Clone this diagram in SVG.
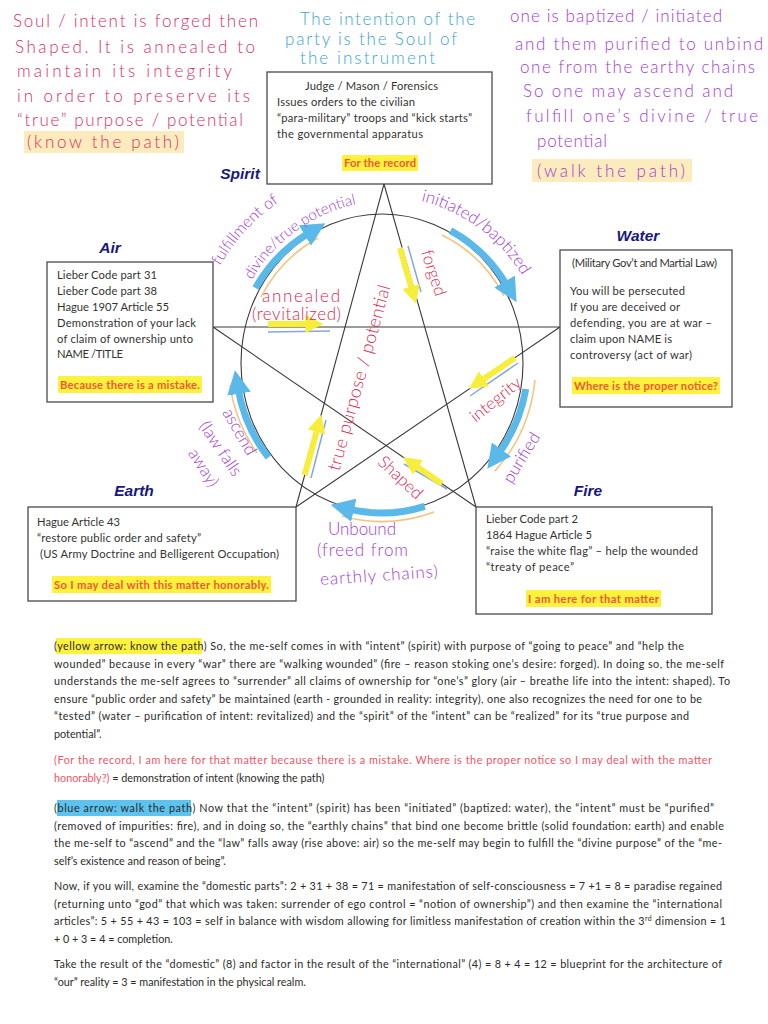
<svg xmlns="http://www.w3.org/2000/svg" width="768" height="1024" viewBox="0 0 768 1024">
<style>
.box{fill:#fff;stroke:#4a4a4a;stroke-width:1.3}
.lbl{font-family:"Liberation Sans",Arial,sans-serif;font-weight:bold;font-style:italic;font-size:15.5px;fill:#17177f;text-anchor:middle}
.bt{font-family:Lato,"Liberation Sans",sans-serif;font-size:11.2px;fill:#333}
.ht{font-family:Lato,"Liberation Sans",sans-serif;font-size:11.2px;font-weight:bold;fill:#f0583a}
.hl{fill:#fff23d}
.pch{fill:#fce7b2;opacity:.85}
.hw{font-family:Lato,"DejaVu Sans",sans-serif;font-weight:300;font-size:17px}
.pink{fill:#d52f66}
.teal{fill:#3ba6d0}
.purp{fill:#a23dd0}
.red{fill:#d62b4f}
.p{font-family:Lato,"Liberation Sans",sans-serif;font-size:10.8px;fill:#2b2b2b}
.pr{fill:#ee5566}
.pl{fill:none;stroke:#3a3a3a;stroke-width:1.1}
.ba{fill:none;stroke:#5ab9e8;stroke-width:7;marker-end:url(#bh)}
.ol{fill:none;stroke:#f4b968;stroke-width:1.6;opacity:.85}
.ya{fill:none;stroke:#f6ee3a;stroke-width:6;marker-end:url(#yh)}
.tb{fill:none;stroke:#7096d6;stroke-width:1.5;opacity:.85}
</style>
<defs>
<marker id="bh" viewBox="0 0 10 10" refX="2" refY="5" markerWidth="3.4" markerHeight="3.4" markerUnits="strokeWidth" orient="auto"><path d="M0,0 L10,5 L0,10 z" fill="#5ab9e8"/></marker>
<marker id="yh" viewBox="0 0 10 10" refX="2" refY="5" markerWidth="3" markerHeight="3" markerUnits="strokeWidth" orient="auto"><path d="M0,0 L10,5 L0,10 z" fill="#f6ee3a"/></marker>
<path id="pFul" d="M220,266 A186,190 0 0 1 298,191"/>
<path id="pDiv" d="M252,280 A157,161 0 0 1 364,203"/>
<path id="pIni" d="M421,201 A163,167 0 0 1 529,288"/>
</defs>
<rect width="768" height="1024" fill="#fff"/>

<!-- handwritten notes -->
<g id="note-left" class="hw pink" font-size="20">
<text x="13" y="27" textLength="245">Soul / intent is forged then</text>
<text x="15" y="53" textLength="240">Shaped. It is annealed to</text>
<text x="17" y="77" textLength="215">maintain its integrity</text>
<text x="17" y="102" textLength="233">in order to preserve its</text>
<text x="17" y="126" textLength="226">“true” purpose / potential</text>
<rect class="pch" x="24" y="131" width="160" height="22"/>
<text x="27" y="148" textLength="152">(know the path)</text>
</g>
<g id="note-center" class="hw teal" font-size="19">
<text x="300" y="25" textLength="175">The intention of the</text>
<text x="285" y="45" textLength="172">party is the Soul of</text>
<text x="300" y="64" textLength="135">the instrument</text>
</g>
<g id="note-right" class="hw purp" font-size="18.5">
<text x="510" y="22" textLength="212">one is baptized / initiated</text>
<text x="515" y="50" textLength="248">and them purified to unbind</text>
<text x="520" y="73" textLength="235">one from the earthy chains</text>
<text x="523" y="97" textLength="210">So one may ascend and</text>
<text x="526" y="122" textLength="232">fulfill one’s divine / true</text>
<text x="537" y="147" textLength="70">potential</text>
<rect class="pch" x="532" y="159" width="160" height="23"/>
<text x="537" y="177" textLength="148">(walk the path)</text>
</g>

<!-- connectors -->
<g id="connectors">
<ellipse class="pl" cx="382" cy="363" rx="141" ry="149"/>
<path class="pl" d="M384,184 L296,507 M384,184 L476,507 M213,327 L560,327 M213,327 L476,507 M560,327 L296,507"/>
<path class="ol" d="M261,297 A137,141 0 0 1 318,238"/>
<path class="ol" d="M442,235 A138,142 0 0 1 504,296"/>
<path class="ol" d="M535,380 A154,158 0 0 1 495,471"/>
<path class="ol" d="M434,512 A153,158 0 0 1 342,516"/>
<path class="ol" d="M257,453 A153,156 0 0 1 230,385"/>
<path class="ba" d="M255.6,288 A146,150 0 0 1 309,233"/>
<path class="ba" d="M450.5,230.6 A146,150 0 0 1 507,285.7"/>
<path class="ba" d="M525.8,389 A146,150 0 0 1 498.6,453.3"/>
<path class="ba" d="M424.7,506.4 A146,150 0 0 1 349.2,509.2"/>
<path class="ba" d="M268.5,457.4 A146,150 0 0 1 238.2,389"/>
<path class="tb" d="M408,246 L421,292"/>
<path class="tb" d="M518,363 L470,396"/>
<path class="tb" d="M447,489 L404,464"/>
<path class="tb" d="M311,478 L326,420"/>
<path class="tb" d="M268,332 L330,331"/>
<path class="ya" d="M400,248 L412,290"/>
<path class="ya" d="M515,357.7 L481,380.7"/>
<path class="ya" d="M442,483.7 L415,465.3"/>
<path class="ya" d="M304.7,475 L317.5,428.4"/>
<path class="ya" d="M268,324 L309,324"/>
</g>

<!-- arrow labels -->
<g id="arrow-labels" class="hw">
<text class="purp" font-size="16"><textPath href="#pFul">fulfillment of</textPath></text>
<text class="purp" font-size="15"><textPath href="#pDiv">divine/true potential</textPath></text>
<text class="purp" font-size="17"><textPath href="#pIni">initiated/baptized</textPath></text>
<text class="purp" font-size="17" text-anchor="middle" transform="translate(522,458) rotate(-58.5)" y="5">purified</text>
<text class="purp" font-size="17" text-anchor="middle" transform="translate(239,432) rotate(60)" y="5">ascend</text>
<text class="purp" font-size="17" text-anchor="middle" transform="translate(220,449) rotate(56)" y="5">(law falls</text>
<text class="purp" font-size="17" text-anchor="middle" transform="translate(203,468) rotate(57)" y="5">away)</text>
<text class="purp" font-size="17" x="328" y="535" textLength="68">Unbound</text>
<text class="purp" font-size="17" x="317" y="556" textLength="91">(freed from</text>
<text class="purp" font-size="17" x="320" y="581" textLength="118" transform="rotate(-4 379 576)">earthly chains)</text>
<text class="red" font-size="17" text-anchor="middle" transform="translate(433,273) rotate(72)" y="5">forged</text>
<text class="red" font-size="17" text-anchor="middle" transform="translate(496,400) rotate(-39)" y="5">integrity</text>
<text class="red" font-size="17" text-anchor="middle" transform="translate(400,478) rotate(43)" y="5">Shaped</text>
<text class="red" font-size="18" text-anchor="middle" transform="translate(360,378) rotate(-74.5)" y="5" textLength="192">true purpose / potential</text>
<text class="red" font-size="17" x="262" y="302" textLength="78">annealed</text>
<text class="red" font-size="17" x="252" y="320" textLength="89">(revitalized)</text>
</g>

<!-- nodes -->
<g id="spirit">
<text class="lbl" x="240" y="179">Spirit</text>
<rect class="box" x="267" y="72" width="225" height="112"/>
<text class="bt" x="305" y="90" textLength="133">Judge / Mason / Forensics</text>
<text class="bt" x="277" y="106" textLength="138">Issues orders to the civilian</text>
<text class="bt" x="277" y="122" textLength="195">“para-military” troops and “kick starts”</text>
<text class="bt" x="277" y="138" textLength="146">the governmental apparatus</text>
<rect class="hl" x="342" y="155" width="76" height="16"/>
<text class="ht" x="344" y="167" textLength="72">For the record</text>
</g>
<g id="air">
<text class="lbl" x="110" y="253">Air</text>
<rect class="box" x="47" y="262" width="166" height="140"/>
<text class="bt" x="57" y="279" textLength="100">Lieber Code part 31</text>
<text class="bt" x="57" y="295" textLength="100">Lieber Code part 38</text>
<text class="bt" x="57" y="311" textLength="112">Hague 1907 Article 55</text>
<text class="bt" x="57" y="327" textLength="139">Demonstration of your lack</text>
<text class="bt" x="57" y="343" textLength="136">of claim of ownership unto</text>
<text class="bt" x="57" y="358" textLength="66">NAME /TITLE</text>
<rect class="hl" x="58" y="376" width="144" height="17"/>
<text class="ht" x="60" y="389" textLength="140">Because there is a mistake.</text>
</g>
<g id="water">
<text class="lbl" x="638" y="241">Water</text>
<rect class="box" x="560" y="250" width="172" height="157"/>
<text class="bt" x="572" y="267" font-size="10.4" textLength="145">(Military Gov’t and Martial Law)</text>
<text class="bt" x="570" y="295" textLength="115">You will be persecuted</text>
<text class="bt" x="570" y="311" textLength="110">If you are deceived or</text>
<text class="bt" x="570" y="327" textLength="142">defending, you are at war –</text>
<text class="bt" x="570" y="343" textLength="102">claim upon NAME is</text>
<text class="bt" x="570" y="359" textLength="122">controversy (act of war)</text>
<rect class="hl" x="572" y="377" width="148" height="17"/>
<text class="ht" x="574" y="390" textLength="144">Where is the proper notice?</text>
</g>
<g id="earth">
<text class="lbl" x="134" y="496">Earth</text>
<rect class="box" x="28" y="507" width="268" height="94"/>
<text class="bt" x="37" y="526" textLength="83">Hague Article 43</text>
<text class="bt" x="37" y="542" textLength="164">“restore public order and safety”</text>
<text class="bt" x="40" y="558" textLength="239">(US Army Doctrine and Belligerent Occupation)</text>
<rect class="hl" x="52" y="576" width="219" height="17"/>
<text class="ht" x="54" y="589" textLength="215">So I may deal with this matter honorably.</text>
</g>
<g id="fire">
<text class="lbl" x="588" y="496">Fire</text>
<rect class="box" x="476" y="507" width="236" height="107"/>
<text class="bt" x="486" y="523" textLength="92">Lieber Code part 2</text>
<text class="bt" x="486" y="539" textLength="106">1864 Hague Article 5</text>
<text class="bt" x="486" y="555" textLength="212">“raise the white flag” – help the wounded</text>
<text class="bt" x="486" y="571" textLength="88">“treaty of peace”</text>
<rect class="hl" x="526" y="590" width="135" height="17"/>
<text class="ht" x="528" y="603" textLength="131">I am here for that matter</text>
</g>

<!-- explanation -->
<g id="explanation" class="p">
<rect x="56" y="638" width="146" height="16" fill="#fff23d"/>
<text x="54" y="650" textLength="630">(yellow arrow: know the path) So, the me-self comes in with “intent” (spirit) with purpose of “going to peace” and “help the</text>
<text x="54" y="668" textLength="670">wounded” because in every “war” there are “walking wounded” (fire – reason stoking one’s desire: forged). In doing so, the me-self</text>
<text x="54" y="685" textLength="676">understands the me-self agrees to “surrender” all claims of ownership for “one’s” glory (air – breathe life into the intent: shaped). To</text>
<text x="54" y="703" textLength="648">ensure “public order and safety” be maintained (earth - grounded in reality: integrity), one also recognizes the need for one to be</text>
<text x="54" y="720" textLength="635">“tested” (water – purification of intent: revitalized) and the “spirit” of the “intent” can be “realized” for its “true purpose and</text>
<text x="54" y="738">potential”.</text>
<text class="pr" x="54" y="764" textLength="658">(For the record, I am here for that matter because there is a mistake. Where is the proper notice so I may deal with the matter</text>
<text x="54" y="782"><tspan class="pr">honorably?)</tspan> = demonstration of intent (knowing the path)</text>
<rect x="57" y="800" width="134" height="16" fill="#5cc3ee"/>
<text x="54" y="812" textLength="660">(blue arrow: walk the path) Now that the “intent” (spirit) has been “initiated” (baptized: water), the “intent” must be “purified”</text>
<text x="54" y="830" textLength="670">(removed of impurities: fire), and in doing so, the “earthly chains” that bind one become brittle (solid foundation: earth) and enable</text>
<text x="54" y="847" textLength="668">the me-self to “ascend” and the “law” falls away (rise above: air) so the me-self may begin to fulfill the “divine purpose” of the “me-</text>
<text x="54" y="865">self’s existence and reason of being”.</text>
<text x="54" y="890" textLength="668">Now, if you will, examine the “domestic parts”: 2 + 31 + 38 = 71 = manifestation of self-consciousness = 7 +1 = 8 = paradise regained</text>
<text x="54" y="908" textLength="668">(returning unto “god” that which was taken: surrender of ego control = “notion of ownership”) and then examine the “international</text>
<text x="54" y="925" textLength="672">articles”: 5 + 55 + 43 = 103 = self in balance with wisdom allowing for limitless manifestation of creation within the 3<tspan dy="-4" font-size="7">rd</tspan><tspan dy="4"> dimension = 1</tspan></text>
<text x="54" y="943">+ 0 + 3 = 4 = completion.</text>
<text x="54" y="968" textLength="668">Take the result of the “domestic” (8) and factor in the result of the “international” (4) = 8 + 4 = 12 = blueprint for the architecture of</text>
<text x="54" y="986">“our” reality = 3 = manifestation in the physical realm.</text>
</g>
</svg>
